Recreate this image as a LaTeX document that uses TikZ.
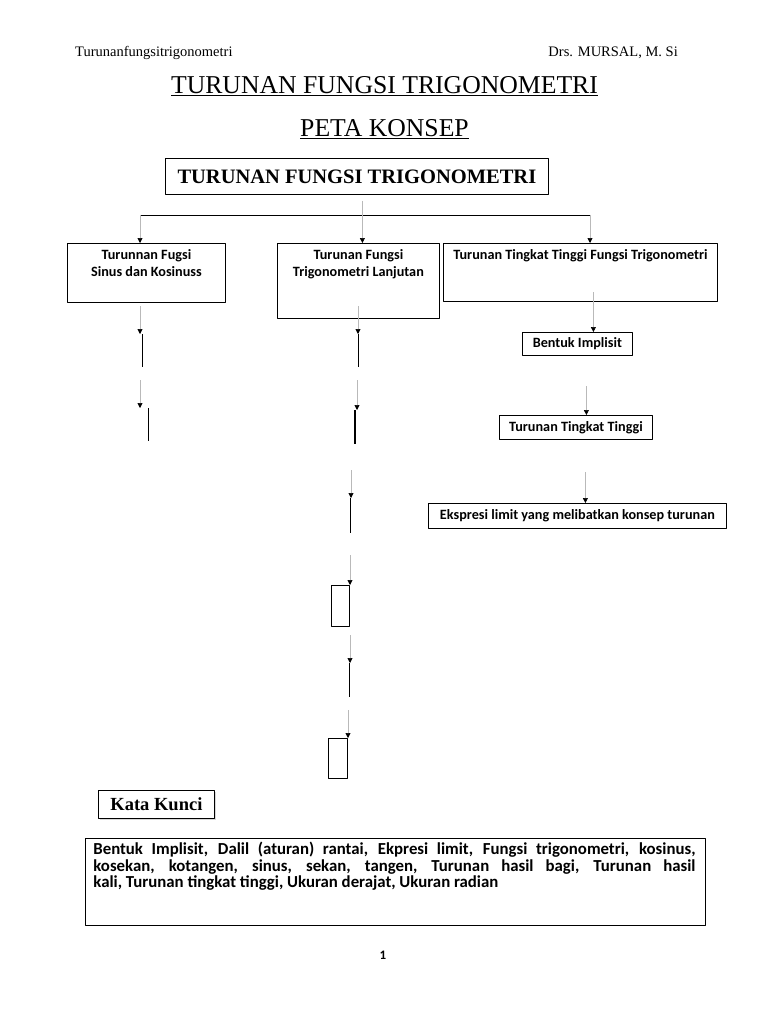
\documentclass[tikz,border=0pt]{standalone}
\usepackage{fontspec}
\setmainfont{Liberation Serif}
\newfontfamily\calibri{Carlito}
\usetikzlibrary{arrows.meta,shadows}

\begin{document}
\begin{tikzpicture}[x=1pt,y=-1pt,>={Triangle[length=5pt,width=5pt,color=black]},line join=round,
	box/.style={draw,fill=white,line width=0.8pt,inner sep=0pt,anchor=north west,font=\calibri\bfseries\fontsize{14.2}{17}\selectfont},
	garr/.style={->,draw=gray!55,line width=0.6pt},
	stub/.style={draw=black,line width=1pt}]
	\useasboundingbox[fill=white] (0,0) rectangle (768,1024);
	% kop halaman
	\node[anchor=base west,inner sep=0pt,font=\fontsize{14.5}{16}\selectfont] (kopkiri) at (75,57) {Turunanfungsitrigonometri};
	\node[anchor=base east,inner sep=0pt,font=\fontsize{14.5}{16}\selectfont] (kopkanan) at (678,57) {Drs. MURSAL, M. Si};
	\node[anchor=base,inner sep=0pt,font=\fontsize{25.7}{30}\selectfont] (judul) at (384.5,94) {\underline{TURUNAN FUNGSI TRIGONOMETRI}};
	\node[anchor=base,inner sep=0pt,font=\fontsize{25.7}{30}\selectfont] (peta) at (384.5,137) {\underline{PETA KONSEP}};
	\node[box,minimum width=383pt,minimum height=36pt,font=\bfseries\fontsize{20.5}{22}\selectfont] (top) at (165,158) {TURUNAN FUNGSI TRIGONOMETRI};
	% tiga cabang
	\node[box] (b1) at (67,243) {\parbox[c][59pt][t]{158pt}{\centering\vspace{6pt}Turunnan Fugsi\\Sinus dan Kosinuss}};
	\node[box] (b2) at (277,243) {\parbox[c][75pt][t]{162pt}{\centering\vspace{6pt}Turunan Fungsi\\Trigonometri Lanjutan}};
	\node[box] (b3) at (443,243) {\parbox[c][58pt][t]{274pt}{\centering\vspace{6pt}Turunan Tingkat Tinggi Fungsi Trigonometri}};
	\draw[line width=0.8pt] (140,215) coordinate (hl) -- (590,215) coordinate (hr);
	\draw[garr] ([xshift=5.5pt,yshift=-6pt]top.south) -- ([xshift=5.5pt]top.south |- b2.north);
	\draw[garr] (hl) -- (hl |- b1.north);
	\draw[garr] (hr) -- (hr |- b3.north);
	% kolom kiri
	\coordinate (l1) at (140,306); \coordinate (l2) at (140,334);
	\draw[garr] (l1) -- (l2); \draw[stub] ([xshift=2pt]l2) -- ++(0,33);
	\coordinate (l3) at (140,380); \coordinate (l4) at (140,408);
	\draw[garr] (l3) -- (l4); \draw[stub] ([xshift=8pt]l4) -- ++(0,33);
	% kolom tengah
	\coordinate (m1) at (358,306); \coordinate (m2) at (358,334);
	\draw[garr] (m1) -- (m2); \draw[stub] (m2) -- ++(0,33);
	\coordinate (m3) at (357,380); \coordinate (m4) at (357,410);
	\draw[garr] (m3) -- (m4); \draw[stub,line width=1.4pt] ([xshift=-2pt]m4) -- ++(0,34);
	\coordinate (m5) at (351,470); \coordinate (m6) at (351,498);
	\draw[garr] (m5) -- (m6); \draw[stub] ([xshift=-1pt]m6) -- ++(0,35);
	\node[box,anchor=north east,minimum width=18pt,minimum height=41pt] (kotak1) at (350,585) {};
	\draw[garr] (350,555) -- (kotak1.north east);
	\coordinate (m7) at (350,635); \coordinate (m8) at (350,663);
	\draw[garr] (m7) -- (m8); \draw[stub] ([xshift=-1pt]m8) -- ++(0,34);
	\node[box,anchor=north east,minimum width=19pt,minimum height=40pt] (kotak2) at (348,738) {};
	\draw[garr] (348,710) -- (kotak2.north east);
	% kolom kanan
	\node[box,minimum width=110pt,minimum height=23pt] (imp) at (522,332) {Bentuk Implisit};
	\node[box,minimum width=153pt,minimum height=24pt] (tinggi) at (499,415) {Turunan Tingkat Tinggi};
	\node[box,minimum width=298pt,minimum height=25pt] (limit) at (428,503) {Ekspresi limit yang melibatkan konsep turunan};
	\draw[garr] ([xshift=16pt,yshift=40pt]imp.north) -- ([xshift=16pt]imp.north);
	\draw[garr] ([xshift=10.5pt,yshift=29pt]tinggi.north) -- ([xshift=10.5pt]tinggi.north);
	\draw[garr] ([xshift=8pt,yshift=31pt]limit.north) -- ([xshift=8pt]limit.north);
	% kata kunci
	\node[box,minimum width=116pt,minimum height=28pt,font=\bfseries\fontsize{18.5}{20}\selectfont,drop shadow={shadow xshift=1.2pt,shadow yshift=-1.8pt,fill=gray!60}] (kunci) at (98,790) {Kata Kunci};
	\node[box,font=\calibri\bfseries\fontsize{16.8}{16.5}\selectfont] (daftar) at (85,838) {\parbox[c][87pt][t]{620pt}{\leftskip=8pt\rightskip=10pt\vspace{4pt}Bentuk Implisit, Dalil (aturan) rantai, Ekpresi limit, Fungsi trigonometri, kosinus,\linebreak kosekan, kotangen, sinus, sekan, tangen, Turunan hasil bagi, Turunan hasil\linebreak kali, Turunan tingkat tinggi, Ukuran derajat, Ukuran radian}};
	\node[inner sep=0pt,font=\calibri\bfseries\fontsize{13}{14}\selectfont] (hal) at (383,955) {1};
\end{tikzpicture}
\end{document}
